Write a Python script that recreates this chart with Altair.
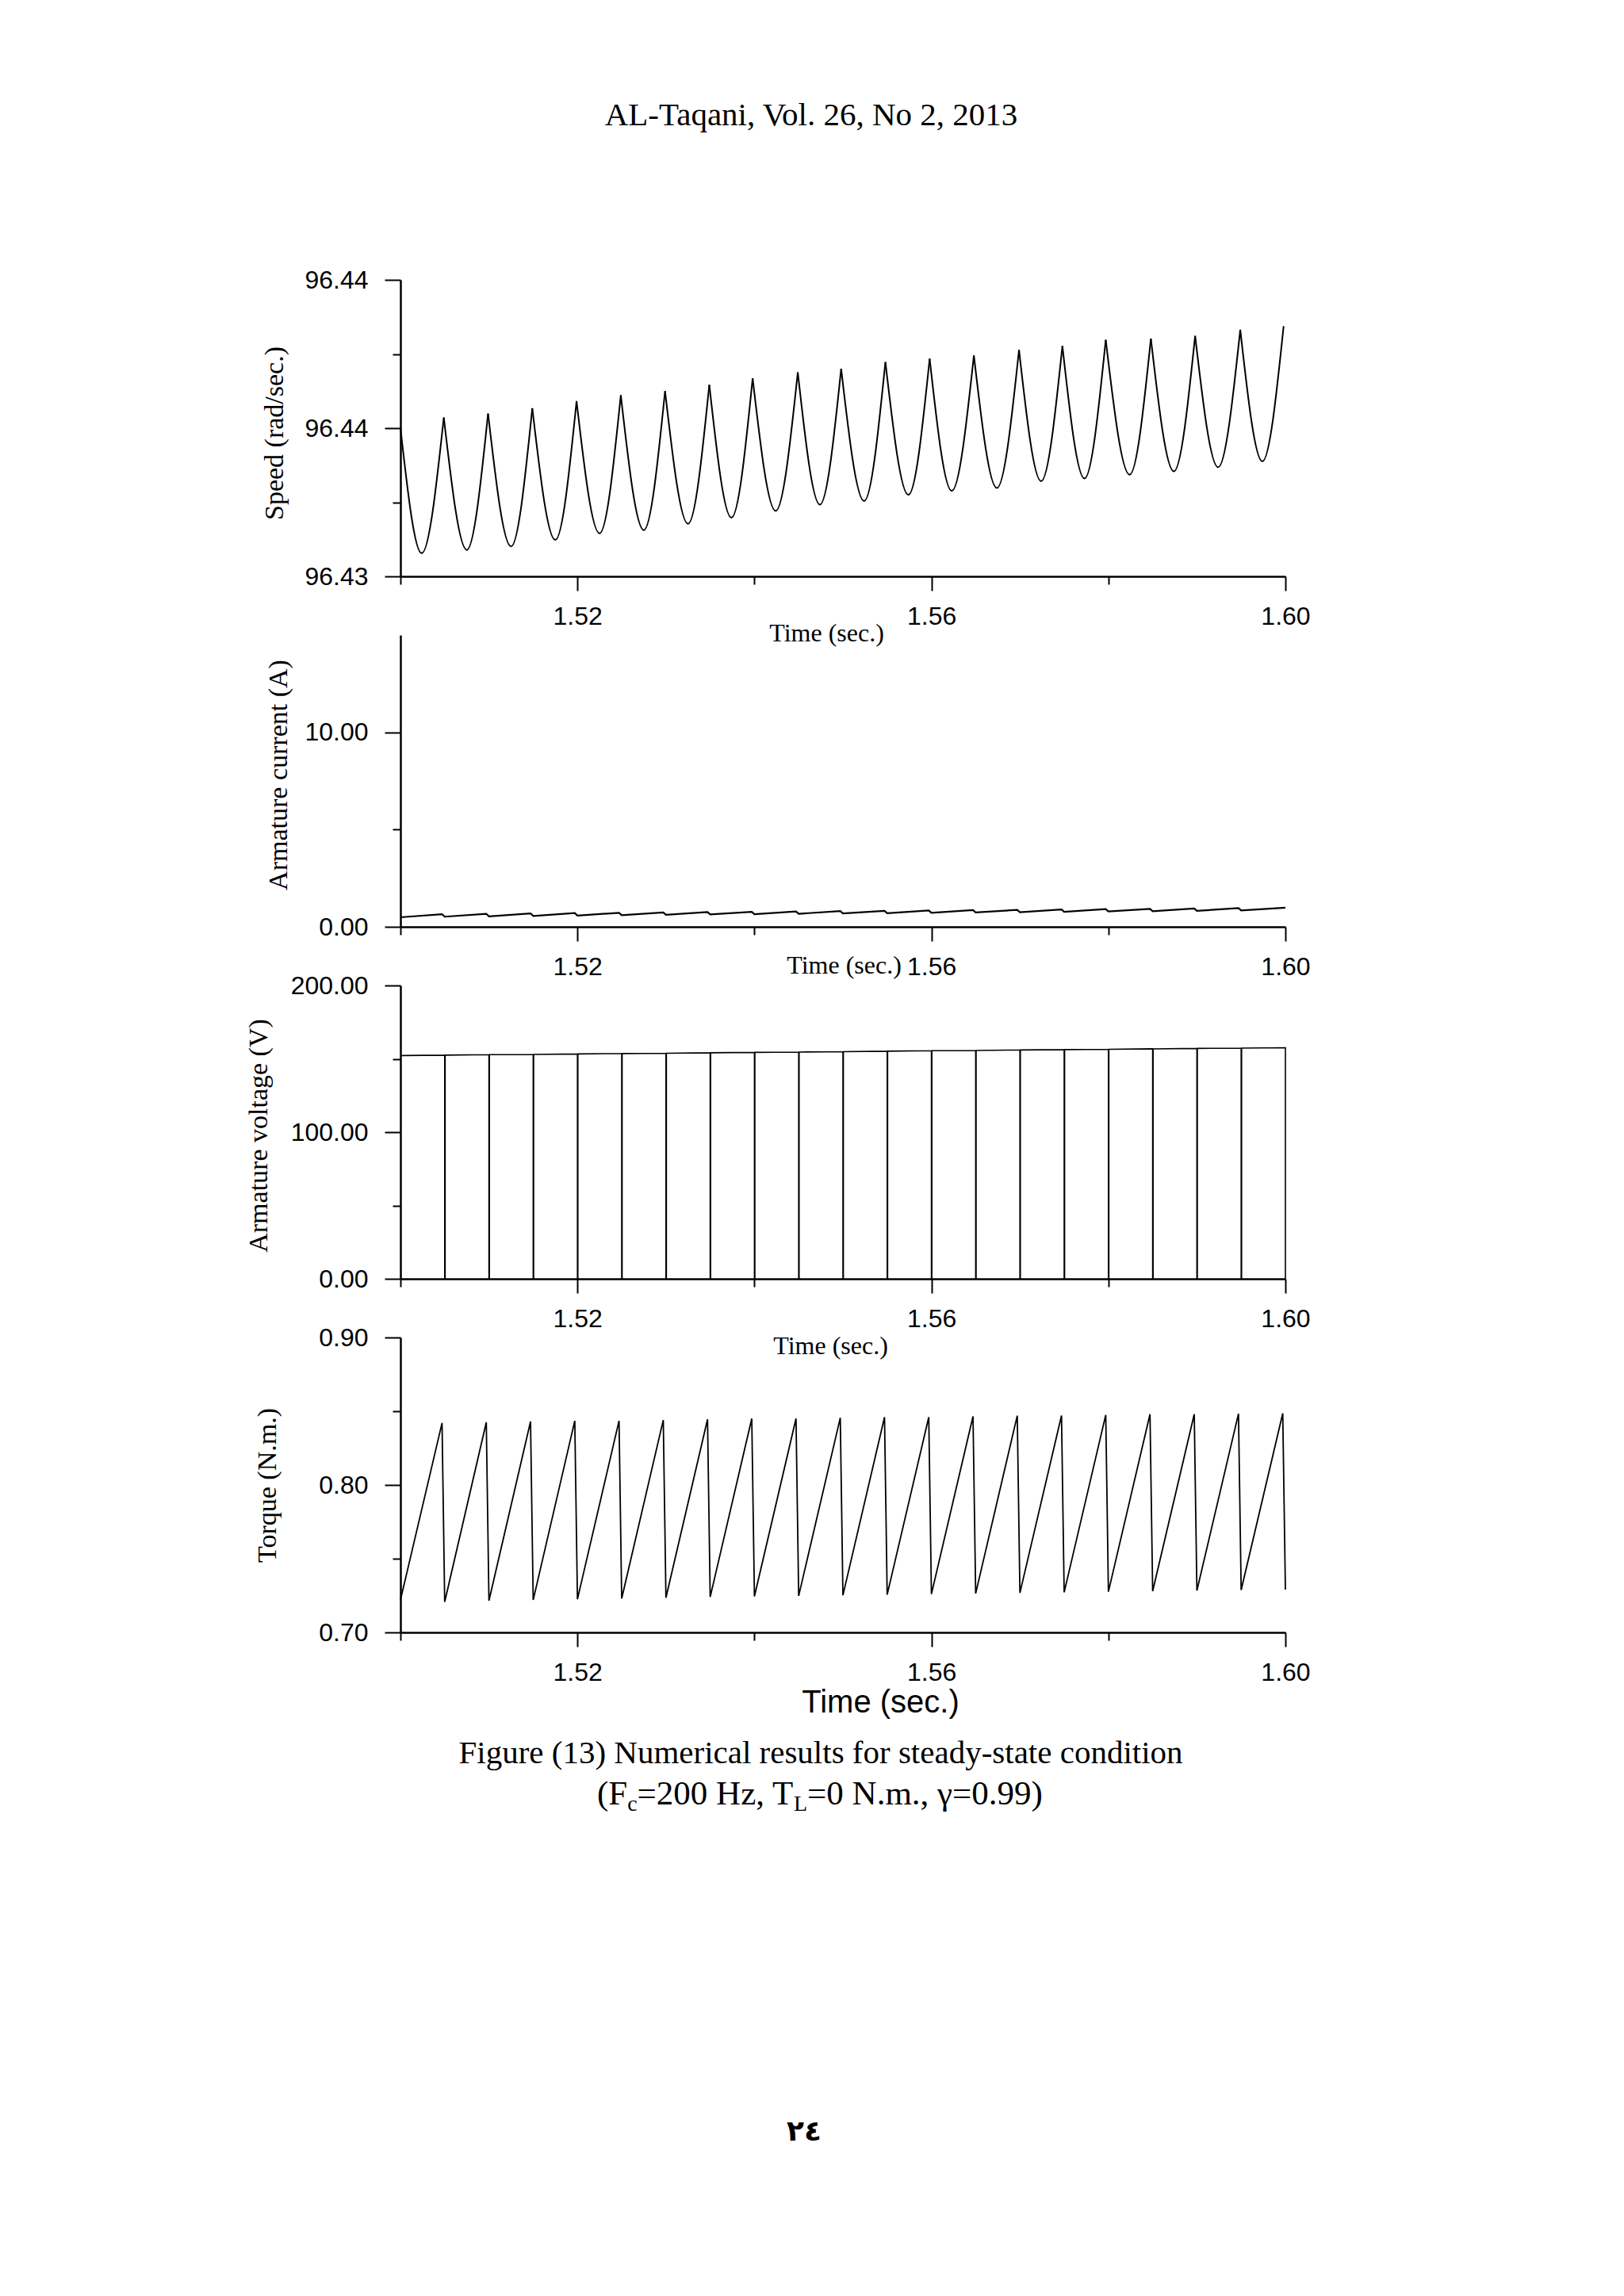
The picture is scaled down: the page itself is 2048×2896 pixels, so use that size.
import altair as alt
import pandas as pd

# ---------------- page texts ----------------
header_text = "AL-Taqani, Vol. 26, No 2, 2013"
caption_line1 = "Figure (13) Numerical results for steady-state condition"
caption_line2_parts = ["(F", "c", "=200 Hz, T", "L", "=0 N.m., γ=0.99)"]
caption_line2_sub = [False, True, False, True, False]
page_number = "٢٤"

# ---------------- axes ----------------
x_tick_values = [1.50, 1.52, 1.54, 1.56, 1.58, 1.60]
x_tick_labels = ["", "1.52", "", "1.56", "", "1.60"]
x_title = "Time (sec.)"

speed_ticks = [96.43, 96.4325, 96.435, 96.4375, 96.44]
speed_tick_labels = ["96.43", "", "96.44", "", "96.44"]
current_ticks = [0, 5, 10]
current_tick_labels = ["0.00", "", "10.00"]
voltage_ticks = [0, 50, 100, 150, 200]
voltage_tick_labels = ["0.00", "", "100.00", "", "200.00"]
torque_ticks = [0.70, 0.75, 0.80, 0.85, 0.90]
torque_tick_labels = ["0.70", "", "0.80", "", "0.90"]

# ---------------- switching instants ----------------
switch_times = [1.5050, 1.5100, 1.5150, 1.5200, 1.5250, 1.5300, 1.5350, 1.5400, 1.5450, 1.5500,
                1.5550, 1.5600, 1.5650, 1.5700, 1.5750, 1.5800, 1.5850, 1.5900, 1.5950, 1.6000]
pre_switch_times = [1.5047, 1.5097, 1.5147, 1.5197, 1.5247, 1.5297, 1.5347, 1.5397, 1.5447, 1.5497,
                    1.5547, 1.5597, 1.5647, 1.5697, 1.5747, 1.5797, 1.5847, 1.5897, 1.5947, 1.5997]
voltage_on_times = [1.50505, 1.51005, 1.51505, 1.52005, 1.52505, 1.53005, 1.53505, 1.54005, 1.54505, 1.55005,
                    1.55505, 1.56005, 1.56505, 1.57005, 1.57505, 1.58005, 1.58505, 1.59005, 1.59505]

# ---------------- speed ----------------
speed_peak_times = [1.5000, 1.5049, 1.5099, 1.5149, 1.5199, 1.5249, 1.5299, 1.5349, 1.5398, 1.5449, 1.5498,
                    1.5548, 1.5598, 1.5648, 1.5699, 1.5748, 1.5797, 1.5848, 1.5898, 1.5949, 1.5998]
speed_peaks = [96.43500, 96.43536, 96.43549, 96.43567, 96.43591, 96.43611, 96.43625, 96.43646, 96.43668,
               96.43688, 96.43700, 96.43723, 96.43734, 96.43745, 96.43764, 96.43777, 96.43798, 96.43802,
               96.43811, 96.43832, 96.43844]
speed_trough_times = [1.5024, 1.5075, 1.5125, 1.5175, 1.5225, 1.5275, 1.5325, 1.5374, 1.5424, 1.5474,
                      1.5524, 1.5574, 1.5623, 1.5674, 1.5724, 1.5773, 1.5824, 1.5874, 1.5924, 1.5974]
speed_troughs = [96.43078, 96.43089, 96.43101, 96.43123, 96.43145, 96.43156, 96.43177, 96.43198, 96.43221,
                 96.43242, 96.43254, 96.43275, 96.43288, 96.43298, 96.43321, 96.43330, 96.43343, 96.43354,
                 96.43368, 96.43388]

# ---------------- armature current ----------------
current_start = 0.49
current_peaks = [0.65, 0.67, 0.69, 0.71, 0.72, 0.74, 0.76, 0.77, 0.79, 0.81,
                 0.82, 0.84, 0.86, 0.87, 0.89, 0.91, 0.92, 0.94, 0.96, 0.98]
current_troughs = [0.52, 0.54, 0.56, 0.58, 0.60, 0.62, 0.64, 0.65, 0.67, 0.69,
                   0.70, 0.72, 0.74, 0.75, 0.77, 0.79, 0.80, 0.82, 0.84]

# ---------------- armature voltage ----------------
voltage_start = 152.2
voltage_high = [152.5, 152.8, 153.0, 153.3, 153.6, 153.8, 154.1, 154.4, 154.6, 154.9,
                155.2, 155.5, 155.7, 156.0, 156.3, 156.5, 156.8, 157.1, 157.3, 157.6]
voltage_low = 0.0

# ---------------- torque ----------------
torque_start = 0.722
torque_peaks = [0.842, 0.8425, 0.843, 0.8435, 0.8435, 0.844, 0.8445, 0.845, 0.845, 0.8455,
                0.846, 0.846, 0.8465, 0.847, 0.847, 0.8475, 0.848, 0.848, 0.8483, 0.8485]
torque_troughs = [0.7207, 0.7215, 0.722, 0.7225, 0.723, 0.7235, 0.724, 0.7245, 0.7248, 0.7252,
                  0.7256, 0.726, 0.7264, 0.7268, 0.7272, 0.7276, 0.728, 0.7284, 0.7288, 0.729]

# ---------------- tables ----------------
rows = []
for k in range(len(speed_troughs)):
    rows.append(dict(cycle=k, i=0, t=speed_peak_times[k], v=speed_peaks[k]))
    rows.append(dict(cycle=k, i=1, t=speed_trough_times[k], v=speed_troughs[k]))
    rows.append(dict(cycle=k, i=2, t=speed_peak_times[k + 1], v=speed_peaks[k + 1]))
speed_df = pd.DataFrame(rows)

pts = [(1.5, current_start)]
for k in range(len(current_peaks)):
    if k < len(current_troughs):
        pts.append((pre_switch_times[k], current_peaks[k]))
        pts.append((switch_times[k], current_troughs[k]))
    else:
        pts.append((switch_times[k], current_peaks[k]))
current_df = pd.DataFrame([dict(i=i, t=t, v=v) for i, (t, v) in enumerate(pts)])

pts = [(1.5, voltage_start)]
for k in range(len(voltage_high)):
    pts.append((switch_times[k], voltage_high[k]))
    pts.append((switch_times[k], voltage_low))
    if k < len(voltage_on_times):
        pts.append((voltage_on_times[k], voltage_low))
        pts.append((voltage_on_times[k], voltage_high[k]))
voltage_df = pd.DataFrame([dict(i=i, t=t, v=v) for i, (t, v) in enumerate(pts)])

pts = [(1.5, torque_start)]
for k in range(len(torque_peaks)):
    pts.append((pre_switch_times[k], torque_peaks[k]))
    pts.append((switch_times[k], torque_troughs[k]))
torque_df = pd.DataFrame([dict(i=i, t=t, v=v) for i, (t, v) in enumerate(pts)])

# ---------------- styling ----------------
SERIF = "Liberation Serif"
SANS = "Liberation Sans"
W = 1116
SPACING = 74
NOFRAME = alt.ViewBackground(stroke="transparent", strokeWidth=0)


def label_expr(vals, labels):
    expr = "''"
    for v, l in reversed(list(zip(vals, labels))):
        expr = f"(abs(datum.value - {v}) < 1e-7 ? '{l}' : {expr})"
    return expr


def major_test(vals, labels):
    parts = [f"abs(datum.value - {v}) < 1e-7" for v, l in zip(vals, labels) if l]
    return " || ".join(parts)


def x_axis(title_font, title_size, title_x, title_y):
    return alt.Axis(
        values=x_tick_values,
        labelExpr=label_expr(x_tick_values, x_tick_labels),
        tickSize={"condition": {"test": major_test(x_tick_values, x_tick_labels), "value": 18}, "value": 10},
        tickWidth=2, tickColor="black",
        domainColor="black", domainWidth=2.5,
        labelFont=SANS, labelFontSize=32, labelColor="black",
        labelBaseline="middle", labelPadding=32, labelFlush=False, labelOverlap=False,
        title=x_title, titleFont=title_font, titleFontSize=title_size, titleFontWeight="normal",
        titleColor="black", titleX=title_x, titleY=title_y, titleAlign="center", titleBaseline="middle",
        grid=False,
    )


def y_axis(vals, labels, title, title_x, title_y):
    return alt.Axis(
        values=vals,
        labelExpr=label_expr(vals, labels),
        tickSize={"condition": {"test": major_test(vals, labels), "value": 20}, "value": 10},
        tickWidth=2, tickColor="black",
        domainColor="black", domainWidth=2.5,
        labelFont=SANS, labelFontSize=32, labelColor="black",
        labelPadding=21, labelOverlap=False, labelFlush=False,
        title=title, titleFont=SERIF, titleFontSize=34, titleFontWeight="normal",
        titleColor="black", titleX=title_x, titleY=title_y, titleAlign="center", titleBaseline="middle",
        grid=False,
    )


def panel(df, domain, yvals, ylabels, ytitle, ytx, yty, height, xfont, xsize, xtx, xty,
          detail=False, interpolate="linear", sw=2.0):
    enc = dict(
        x=alt.X("t:Q", scale=alt.Scale(domain=[1.5, 1.6], nice=False, zero=False),
                axis=x_axis(xfont, xsize, xtx, xty)),
        y=alt.Y("v:Q", scale=alt.Scale(domain=domain, nice=False, zero=False),
                axis=y_axis(yvals, ylabels, ytitle, ytx, yty)),
        order=alt.Order("i:Q"),
    )
    if detail:
        enc["detail"] = alt.Detail("cycle:N")
    return alt.Chart(df).mark_line(color="black", strokeWidth=sw, interpolate=interpolate).encode(
        **enc).properties(width=W, height=height, view=NOFRAME)


p1 = panel(speed_df, [96.43, 96.44], speed_ticks, speed_tick_labels, "Speed (rad/sec.)",
           -159, 193, 374, SERIF, 32, 537, 71, detail=True, interpolate="monotone", sw=2.0)
p2 = panel(current_df, [0, 15], current_ticks, current_tick_labels, "Armature current (A)",
           -154, 176, 368, SERIF, 32, 559, 48, sw=2.2)
p3 = panel(voltage_df, [0, 200], voltage_ticks, voltage_tick_labels, "Armature voltage (V)",
           -179, 189, 370, SERIF, 32, 542, 84, sw=1.6)
p4 = panel(torque_df, [0.7, 0.9], torque_ticks, torque_tick_labels, "Torque (N.m.)",
           -168, 186, 372, SANS, 40, 605, 88, sw=1.8)

# header block
header = alt.Chart(pd.DataFrame({"txt": [header_text]})).mark_text(
    font=SERIF, fontSize=41, color="black", align="center", baseline="alphabetic"
).encode(text="txt:N", x=alt.value(518), y=alt.value(150)).properties(width=W, height=271, view=NOFRAME)


# caption block
def cap_text(txt, x, y, size, align="center", font=SERIF, weight="normal"):
    return alt.Chart(pd.DataFrame({"txt": [txt]})).mark_text(
        font=font, fontSize=size, color="black", align=align, baseline="alphabetic", fontWeight=weight
    ).encode(text="txt:N", x=alt.value(x), y=alt.value(y))


cap_layers = [cap_text(caption_line1, 530, 91, 41)]
x_pos = 248
seg_w = [38.2, 12.4, 197.4, 17.1, 297.2]
for part, sub, w in zip(caption_line2_parts, caption_line2_sub, seg_w):
    cap_layers.append(cap_text(part, x_pos, 151 if sub else 143, 28 if sub else 43, align="left"))
    x_pos += w
cap_layers.append(cap_text(page_number, 509, 567, 36, font="DejaVu Sans", weight="bold"))
caption = alt.layer(*cap_layers).properties(width=W, height=600, view=NOFRAME)

chart = alt.vconcat(header, p1, p2, p3, p4, caption, spacing=SPACING, bounds="flush").properties(
    padding={"left": 300, "top": 0, "right": 5, "bottom": 5},
).configure_view(stroke="transparent", strokeWidth=0).configure(background="white")

chart.save("out.html", embed_options={"renderer": "svg", "actions": False})
